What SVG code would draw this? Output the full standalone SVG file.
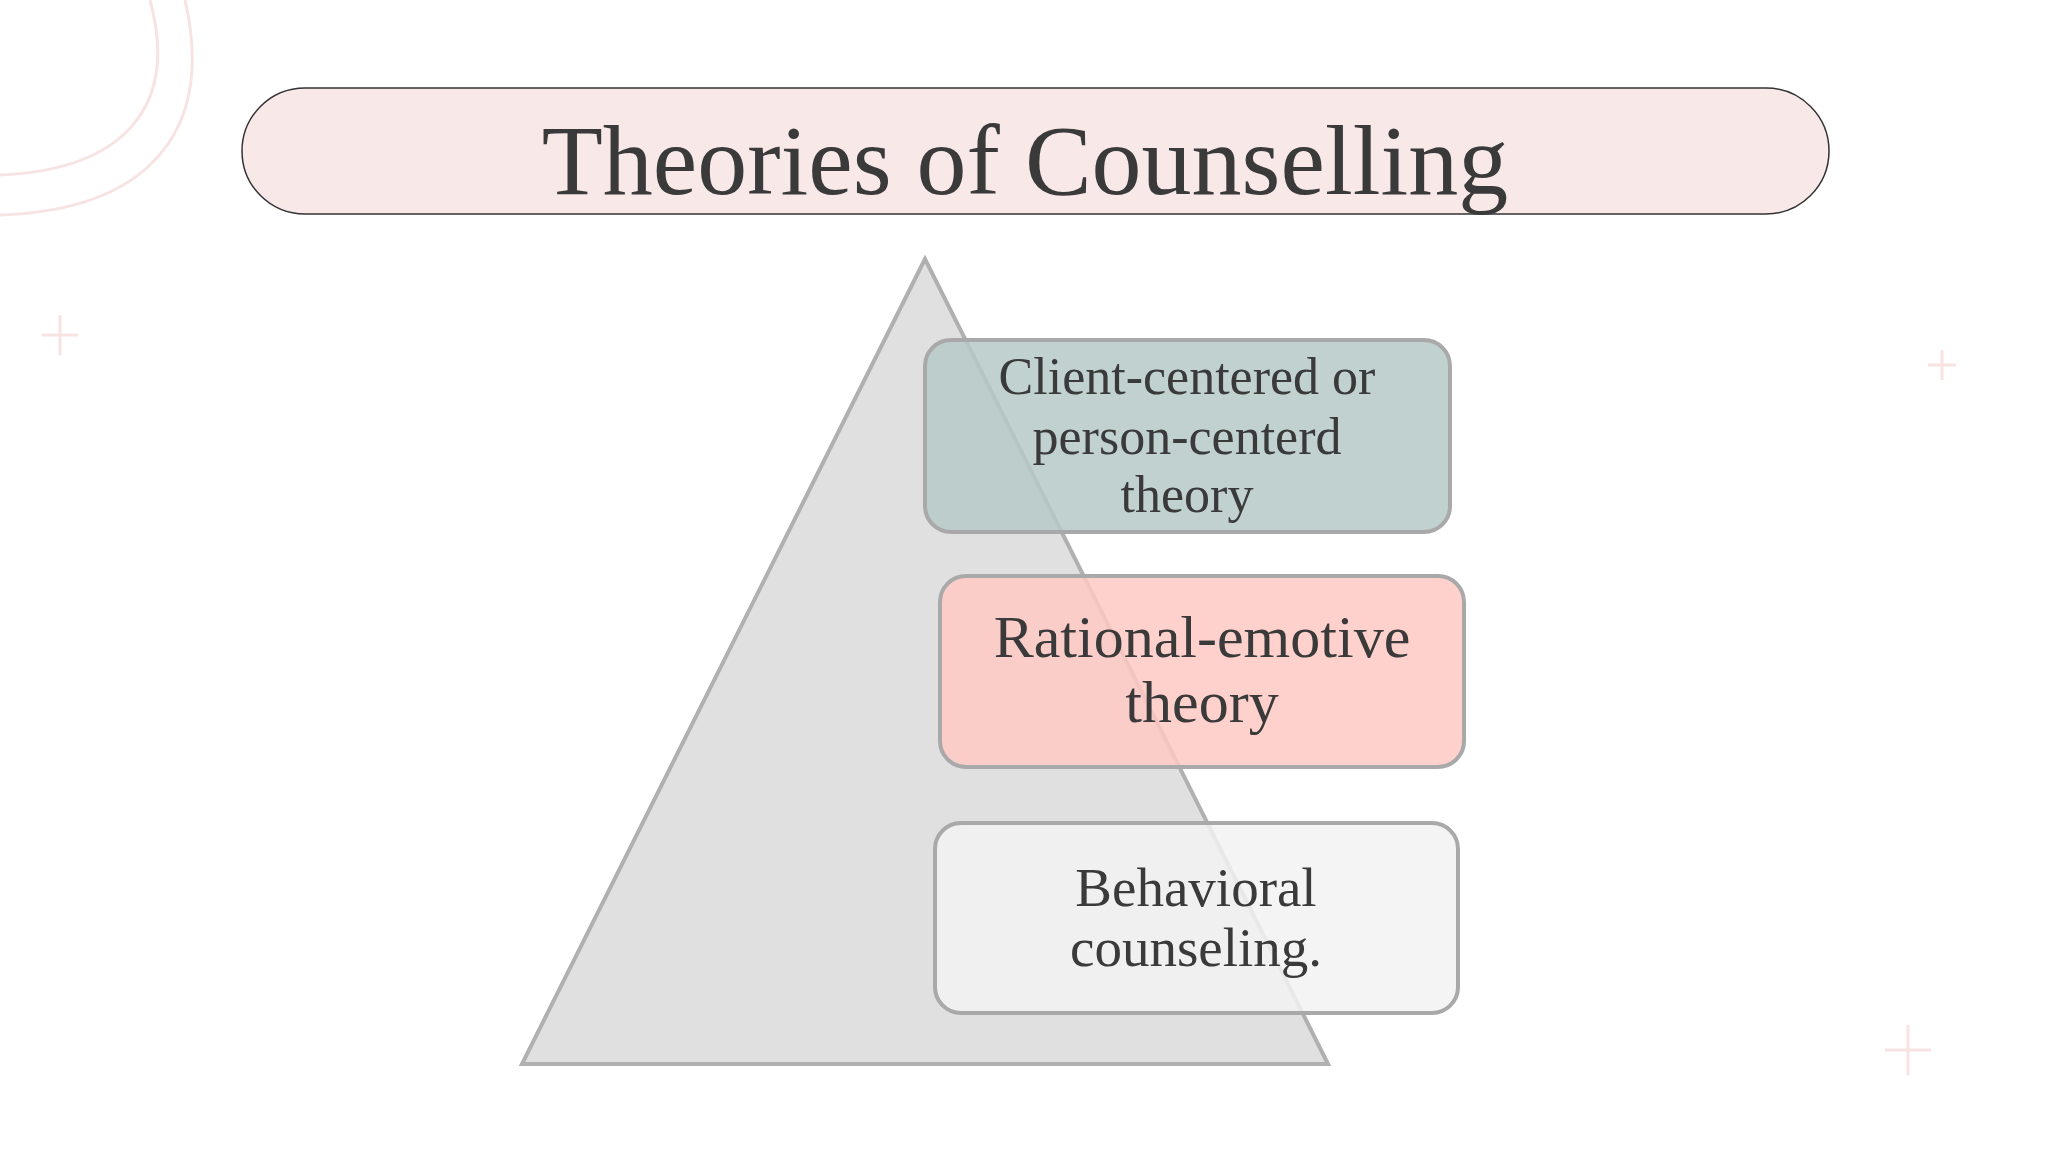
<svg xmlns="http://www.w3.org/2000/svg" width="2048" height="1152" viewBox="0 0 2048 1152">
<style>
.t{font-family:"Liberation Serif","DejaVu Serif",serif;fill:#3a3a3a;text-anchor:middle}
.b{stroke:#a9a9a9;stroke-width:4;fill-opacity:0.85}
.d{fill:none;stroke:#f7e4e2;stroke-width:3}
</style>
<rect width="2048" height="1152" fill="#ffffff"/>
<g id="decor">
<path class="d" d="M0,175 C120,170 180,110 150,0"/>
<path class="d" d="M0,215 C150,210 215,130 185,0"/>
<path class="d" d="M60,315 L60,355 M42,335 L78,335"/>
<path class="d" d="M1942,350 L1942,380 M1928,365 L1956,365"/>
<path class="d" d="M1908,1025 L1908,1075 M1885,1050 L1931,1050"/>
</g>
<g id="title">
<rect x="242" y="88" width="1587" height="126" rx="63" fill="#f8e9e8" stroke="#333" stroke-width="1.5"/>
<text class="t" x="1025" y="194" font-size="100">Theories of Counselling</text>
</g>
<g id="pyramid">
<polygon points="925,259 522,1064 1328,1064" fill="#e0e0e0" stroke="#b0b0b0" stroke-width="4"/>
</g>
<g id="node1">
<rect class="b" x="925" y="340" width="525" height="192" rx="26" fill="#b5c9c8"/>
<text class="t" x="1187" y="394" font-size="52">Client-centered or</text>
<text class="t" x="1187" y="454" font-size="52">person-centerd</text>
<text class="t" x="1187" y="512" font-size="52">theory</text>
</g>
<g id="node2">
<rect class="b" x="940" y="576" width="524" height="191" rx="26" fill="#ffc9c4"/>
<text class="t" x="1202" y="657" font-size="60">Rational-emotive</text>
<text class="t" x="1202" y="722" font-size="60">theory</text>
</g>
<g id="node3">
<rect class="b" x="935" y="823" width="523" height="190" rx="26" fill="#f2f2f2"/>
<text class="t" x="1196" y="906" font-size="55">Behavioral</text>
<text class="t" x="1196" y="966" font-size="55">counseling.</text>
</g>
<g id="connectors"/>
</svg>
